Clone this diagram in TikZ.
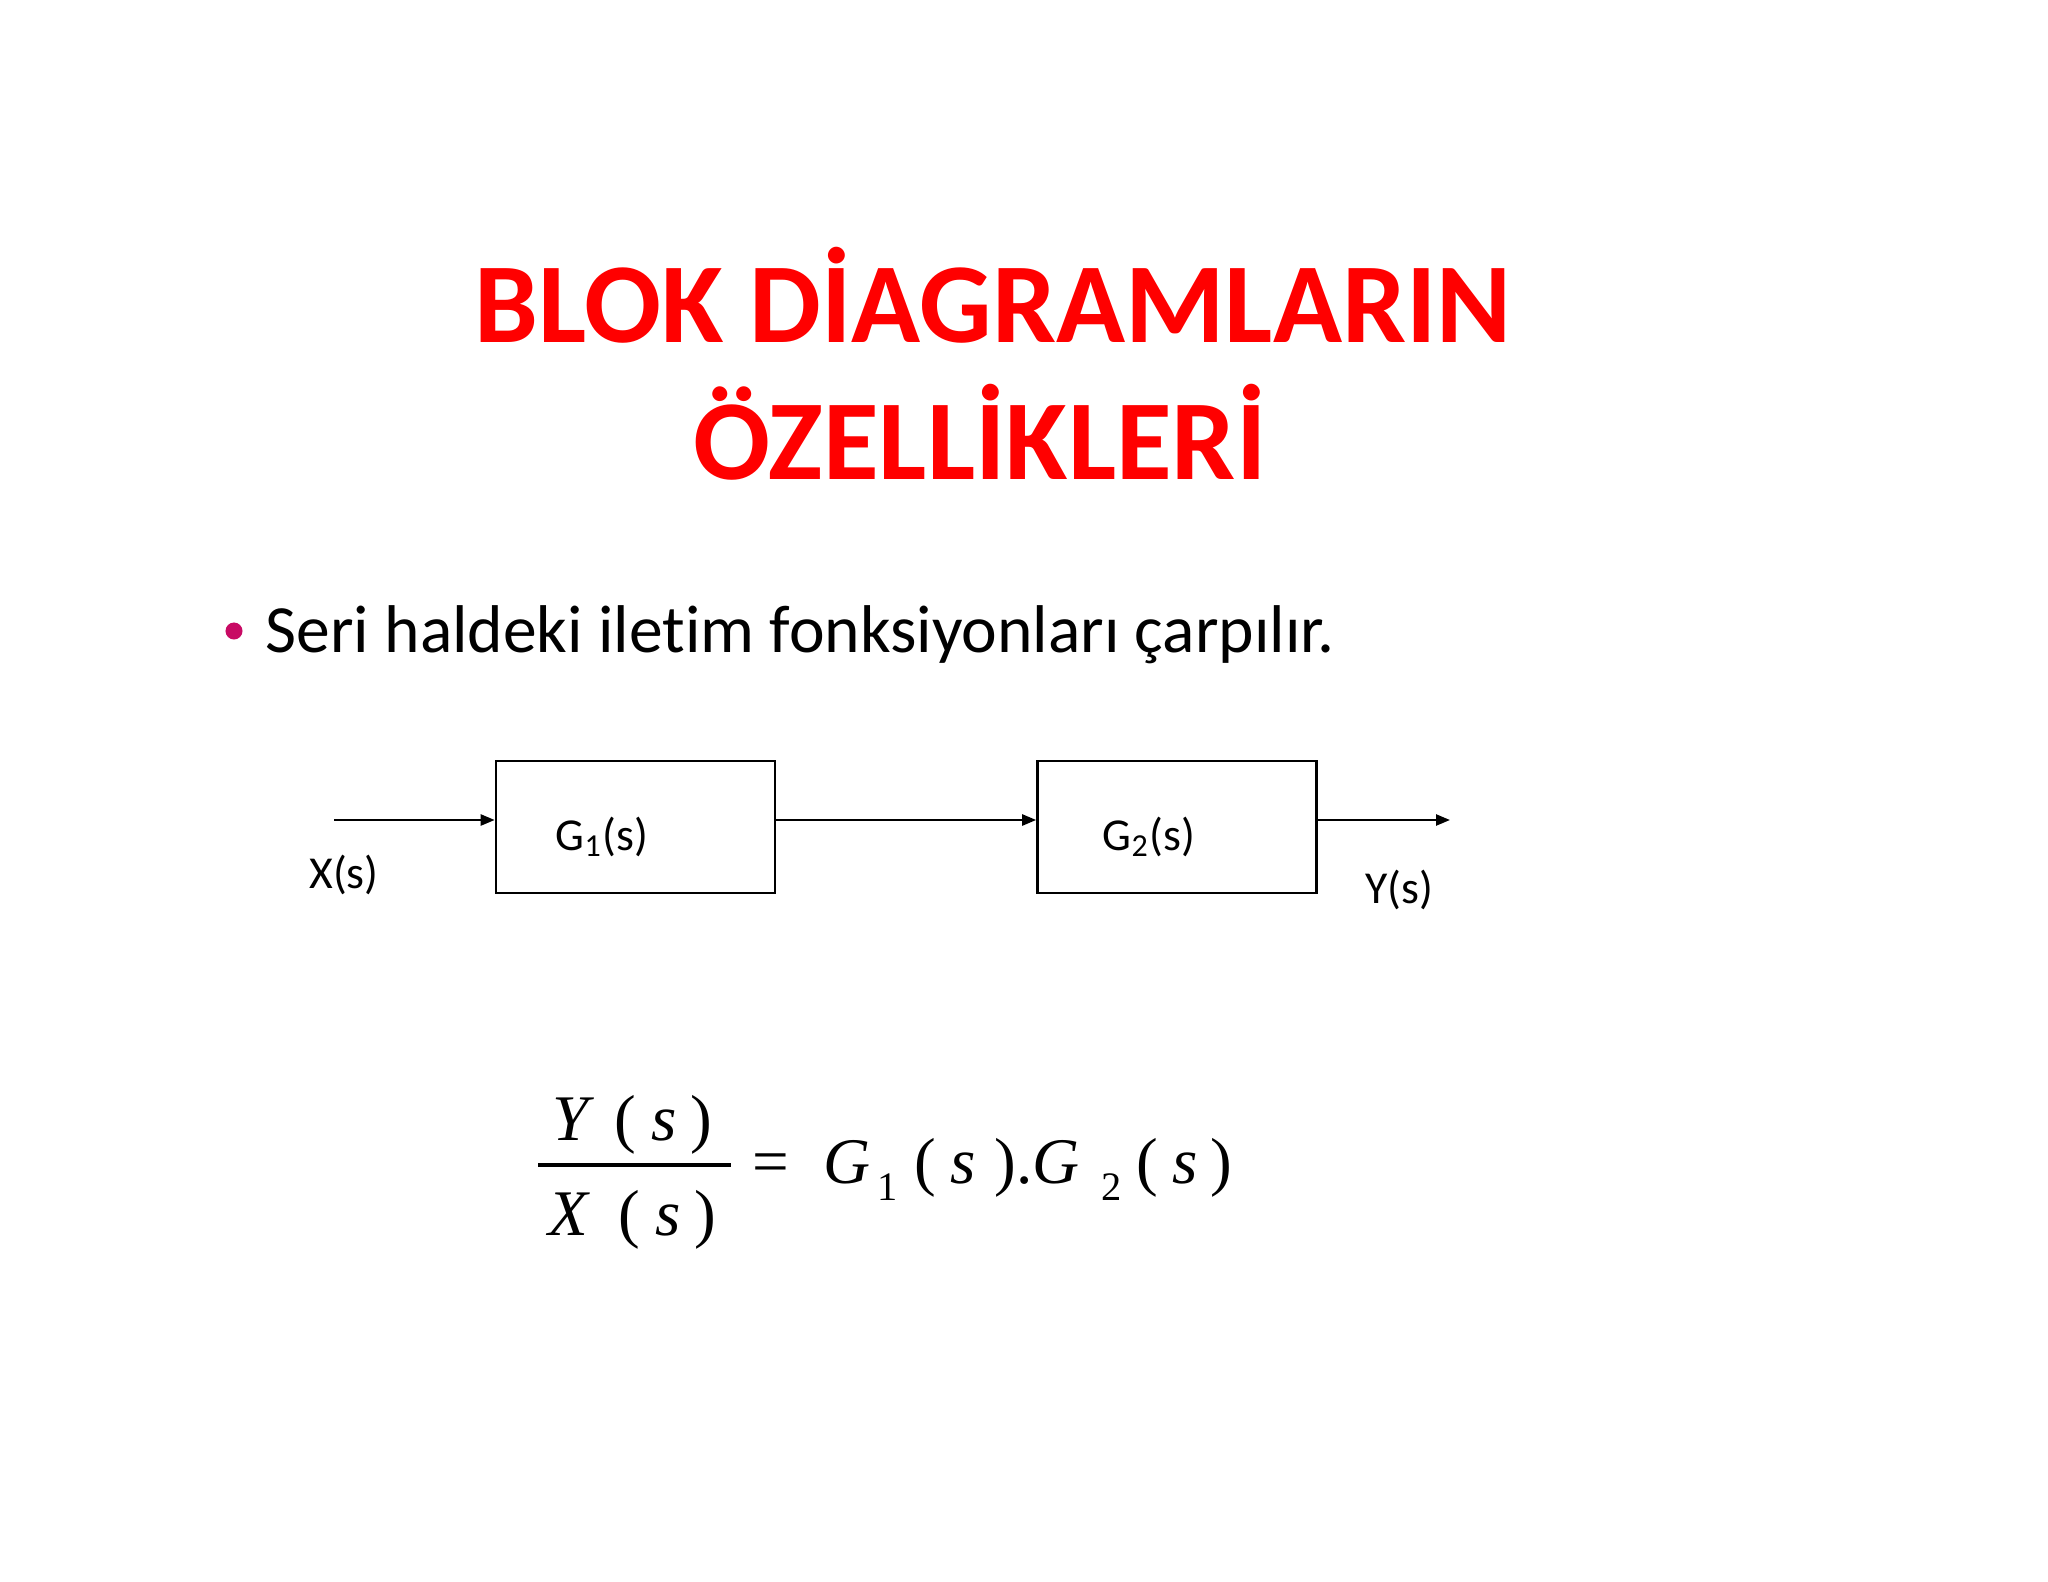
\documentclass[tikz,border=0pt]{standalone}
\usepackage{fontspec}
\setmainfont{Carlito}[Ligatures=NoCommon]
\newfontfamily\eqfont{Liberation Serif}
\usetikzlibrary{arrows.meta}

\definecolor{titlered}{RGB}{255,0,0}
\definecolor{bulletcol}{RGB}{200,10,100}

% italic variable and lowered index for the formula
\newcommand\ev[1]{{\itshape #1}}
\newcommand\eqsub[1]{\raisebox{-0.17cm}{\fontsize{11.5pt}{12pt}\selectfont #1}}

\tikzset{
  block/.style={draw, line width=0.7pt, minimum width=2.79cm, minimum height=1.32cm, inner sep=0pt},
  sig/.style={line width=0.7pt, -{Triangle[length=0.14cm,width=0.11cm]}},
  lab/.style={anchor=base, inner sep=0pt, font=\fontsize{13pt}{15pt}\selectfont},
  eq/.style={anchor=base, inner sep=0pt, font=\eqfont\fontsize{18.5pt}{22pt}\selectfont}
}

\begin{document}
\begin{tikzpicture}[x=0.01cm, y=-0.01cm]
  \useasboundingbox (0,0) rectangle (2048,1582);

  % title
  \node[anchor=base, inner sep=0pt, text=titlered, font=\fontsize{32.4pt}{39pt}\selectfont\bfseries] (title1) at (993,342) {BLOK DİAGRAMLARIN};
  \node[anchor=base, inner sep=0pt, text=titlered, font=\fontsize{32.4pt}{39pt}\selectfont\bfseries] (title2) at (980,479) {ÖZELLİKLERİ};

  % bullet
  \node[circle, fill=bulletcol, inner sep=0pt, minimum size=0.17cm] (dot) at (234,631) {};
  \node[anchor=base west, inner sep=0pt, font=\fontsize{19.2pt}{23pt}\selectfont] (point) at (265,652) {Seri haldeki iletim fonksiyonları çarpılır.};

  % blocks in series
  \node[block] (g1) at (635.5,827) {};
  \node[block] (g2) at (1177,827) {};
  \node[lab] (g1lab) at (602,850) {G\textsubscript{1}(s)};
  \node[lab] (g2lab) at (1149,850) {G\textsubscript{2}(s)};
  \coordinate (xin) at (334,820);
  \coordinate (yout) at (1450,820);
  \draw[sig] (xin) -- (xin -| g1.west);
  \draw[sig] (xin -| g1.east) -- (xin -| g2.west);
  \draw[sig] (xin -| g2.east) -- (yout);
  \node[lab] (xs) at (344,888) {X(s)};
  \node[lab] (ys) at (1399,903) {Y(s)};

  % formula
  \node[eq] (num) at (632,1140) {\ev{Y}\hspace{0.26cm}(\hspace{0.16cm}\ev{s}\hspace{0.13cm})};
  \node[eq] (den) at (632,1235) {\ev{X}\hspace{0.3cm}(\hspace{0.16cm}\ev{s}\hspace{0.13cm})};
  \draw[line width=1pt] (538,1165) -- (731,1165);
  \node[eq, anchor=base west] (rhs) at (752,1183) {=\hspace{0.34cm}\ev{G}\hspace{0.07cm}\eqsub{1}\hspace{0.17cm}(\hspace{0.14cm}\ev{s}\hspace{0.19cm}).\ev{G}\hspace{0.22cm}\eqsub{2}\hspace{0.15cm}(\hspace{0.14cm}\ev{s}\hspace{0.13cm})};
\end{tikzpicture}
\end{document}
